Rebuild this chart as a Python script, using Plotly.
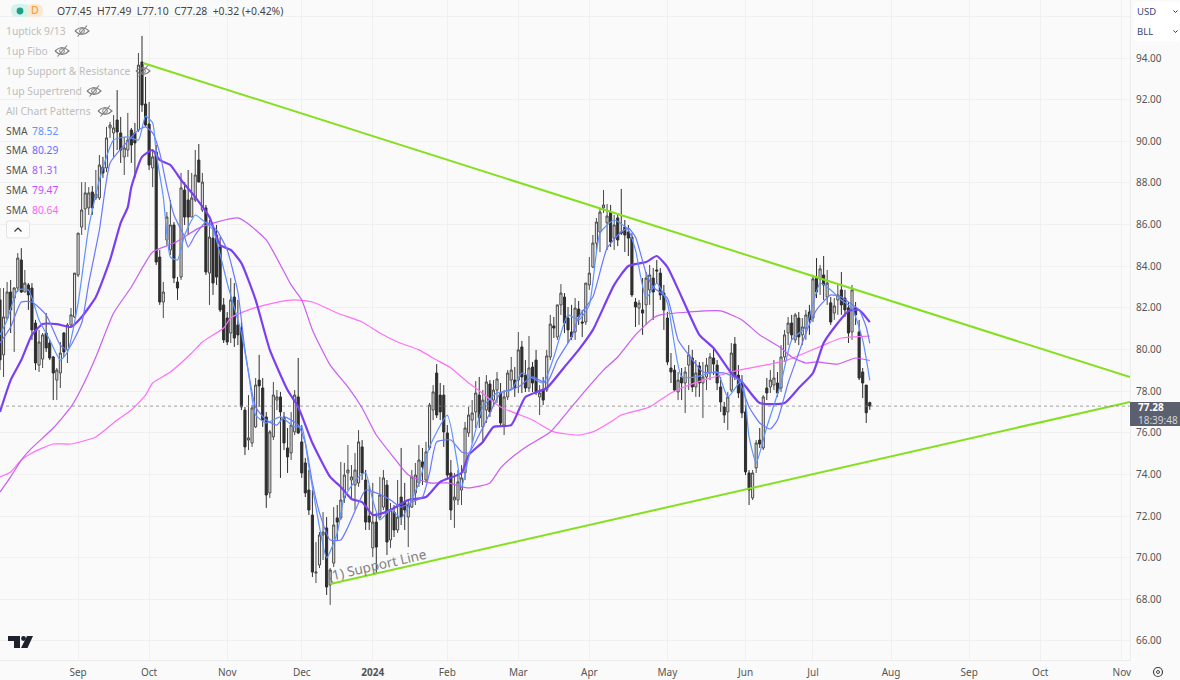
"""BLL daily candlesticks with SMAs and a triangle pattern, TradingView look."""

import plotly.graph_objects as go

# bar number 0 is the first visible day, the axis runs on into empty future bars
month_bars = [22, 42, 64, 85, 105, 126, 146, 166, 188, 210, 229, 251, 273, 293, 316]
month_labels = ['Sep', 'Oct', 'Nov', 'Dec', '<b>2024</b>', 'Feb', 'Mar', 'Apr', 'May',
                'Jun', 'Jul', 'Aug', 'Sep', 'Oct', 'Nov']
price_ticks = [66, 68, 70, 72, 74, 76, 78, 80, 82, 84, 86, 88, 90, 92, 94, 96]
price_labels = ['66.00', '68.00', '70.00', '72.00', '74.00', '76.00', '78.00', '80.00',
                '82.00', '84.00', '86.00', '88.00', '90.00', '92.00', '94.00', '']

opens = [
    82.38, 79.74, 81.51, 82.76, 82.47, 82.95, 84.30, 82.76, 83.10, 82.95,
    81.27, 79.25, 79.54, 80.79, 80.31, 79.64, 78.53, 78.87, 80.79, 79.98,
    81.18, 81.56, 83.58, 85.88, 86.75, 86.80, 87.56, 87.28, 87.28, 88.76,
    88.72, 90.64, 90.40, 91.02, 90.40, 89.25, 89.58, 90.54, 90.40, 90.54,
    93.81, 91.79, 90.83, 88.72, 89.49, 84.44, 82.28, 85.26, 84.78, 85.98,
    83.24, 83.48, 87.66, 87.18, 86.36, 87.18, 89.10, 86.70, 86.80, 83.67,
    85.35, 85.50, 84.92, 82.14, 81.51, 80.79, 82.52, 81.18, 81.03, 77.09,
    75.65, 75.51, 76.28, 78.53, 78.15, 76.76, 73.11, 75.80, 77.57, 77.72,
    76.76, 75.27, 75.03, 76.04, 77.72, 75.56, 74.55, 73.25, 72.05, 69.26,
    69.65, 71.09, 71.43, 68.69, 69.74, 71.91, 71.91, 72.87, 74.07, 73.73,
    73.49, 73.59, 75.32, 73.73, 72.00, 70.47, 71.71, 71.95, 72.43, 73.49,
    70.85, 72.19, 71.33, 72.91, 72.67, 71.95, 72.43, 73.11, 73.59, 74.60,
    73.73, 75.27, 77.09, 78.87, 77.81, 77.81, 75.99, 74.07, 72.77, 72.77,
    73.25, 74.07, 75.99, 76.61, 77.00, 77.81, 76.28, 77.09, 78.34, 77.57,
    78.05, 77.91, 76.37, 77.72, 78.53, 78.53, 78.53, 80.12, 78.77, 78.15,
    79.16, 79.49, 77.72, 78.05, 78.05, 79.64, 81.13, 80.60, 82.14, 82.52,
    81.51, 80.84, 80.84, 81.94, 81.32, 81.32, 83.10, 83.96, 85.11, 85.64,
    86.80, 86.08, 86.60, 85.35, 86.32, 85.64, 85.88, 85.64, 85.40, 82.28,
    81.99, 81.90, 82.14, 82.86, 83.43, 83.82, 83.67, 82.71, 81.51, 79.11,
    79.01, 77.96, 78.68, 78.39, 79.25, 79.59, 78.20, 79.21, 78.39, 78.68,
    78.87, 79.59, 79.25, 78.20, 77.24, 77.00, 78.05, 80.26, 78.77, 78.39,
    77.00, 74.07, 72.87, 74.31, 75.65, 75.27, 78.15, 78.20, 78.29, 78.39,
    78.15, 79.64, 80.79, 81.27, 80.46, 81.51, 80.70, 81.03, 81.80, 81.51,
    83.43, 83.39, 83.58, 82.52, 82.24, 81.75, 82.38, 82.86, 82.47, 82.00,
    80.84, 82.00, 80.84, 78.92, 78.29, 77.45,
]
highs = [
    82.95, 82.95, 83.24, 83.34, 83.00, 84.63, 84.87, 83.82, 83.19, 83.19,
    81.42, 80.94, 80.79, 81.75, 80.46, 79.69, 79.11, 80.36, 80.84, 81.27,
    81.99, 83.67, 85.59, 88.04, 88.04, 87.80, 87.85, 88.62, 89.34, 89.25,
    90.69, 90.93, 91.26, 92.46, 91.17, 90.21, 91.36, 90.64, 90.88, 94.24,
    95.06, 93.09, 91.89, 89.58, 89.82, 84.78, 83.24, 86.60, 87.18, 86.12,
    83.48, 88.48, 88.04, 88.62, 88.48, 89.58, 89.87, 88.48, 86.94, 86.22,
    85.83, 85.98, 85.40, 82.47, 81.80, 83.43, 83.19, 82.38, 81.32, 77.24,
    77.81, 77.33, 78.63, 79.74, 78.63, 77.00, 76.13, 78.44, 78.05, 77.96,
    77.00, 76.23, 77.00, 78.05, 79.59, 76.37, 74.79, 74.21, 73.25, 70.75,
    71.23, 72.19, 71.95, 69.50, 72.43, 72.53, 74.60, 74.55, 75.41, 74.45,
    75.03, 76.13, 75.65, 74.21, 73.49, 73.59, 72.15, 73.88, 74.21, 73.73,
    72.63, 72.53, 73.73, 75.27, 73.59, 72.77, 74.21, 74.55, 75.41, 75.27,
    75.56, 77.43, 78.29, 79.30, 78.39, 78.29, 76.37, 74.69, 74.07, 74.21,
    74.45, 76.52, 77.24, 77.57, 78.48, 78.68, 78.05, 78.77, 78.53, 78.53,
    78.92, 78.39, 78.05, 79.01, 79.64, 79.16, 80.84, 80.41, 79.49, 80.65,
    79.40, 79.98, 78.29, 78.68, 79.98, 81.66, 81.56, 82.14, 83.14, 82.71,
    82.04, 82.14, 82.47, 82.33, 81.90, 83.19, 84.44, 85.50, 86.32, 86.80,
    87.66, 86.99, 86.94, 86.46, 86.46, 87.71, 86.22, 85.98, 85.59, 82.47,
    82.38, 83.43, 83.72, 84.06, 83.91, 84.30, 83.91, 83.10, 81.80, 79.83,
    79.25, 78.92, 79.11, 79.16, 80.21, 79.98, 79.49, 79.40, 79.40, 79.59,
    79.83, 80.07, 79.49, 78.68, 77.48, 77.96, 80.31, 80.60, 79.25, 78.77,
    77.33, 74.21, 74.21, 75.65, 76.23, 77.81, 78.63, 79.01, 79.49, 78.92,
    80.21, 80.94, 81.56, 81.66, 81.75, 81.80, 81.51, 81.90, 82.14, 83.58,
    84.39, 84.06, 84.49, 83.82, 82.52, 82.47, 83.10, 83.72, 82.86, 82.28,
    83.10, 82.28, 81.42, 79.11, 78.29, 77.49,
]
lows = [
    79.01, 78.68, 81.42, 80.79, 79.88, 82.76, 82.71, 82.76, 81.90, 80.46,
    79.01, 78.92, 79.11, 79.88, 79.49, 77.57, 77.57, 78.15, 79.64, 79.35,
    81.08, 81.51, 83.48, 85.50, 85.74, 86.46, 86.46, 87.18, 87.18, 88.24,
    88.52, 90.16, 89.25, 89.58, 88.96, 88.38, 89.25, 88.96, 88.24, 90.45,
    91.41, 90.69, 88.62, 87.80, 84.06, 82.14, 81.51, 85.02, 84.54, 83.19,
    82.38, 83.34, 85.98, 85.50, 86.36, 87.08, 88.04, 86.60, 83.58, 82.14,
    82.62, 83.10, 81.80, 80.31, 80.21, 80.31, 80.12, 80.21, 77.09, 74.93,
    75.17, 75.32, 76.23, 77.24, 76.28, 72.39, 72.87, 75.65, 77.09, 73.83,
    75.17, 74.07, 74.69, 75.89, 75.94, 73.83, 72.91, 72.05, 69.07, 68.78,
    69.50, 69.89, 68.21, 67.73, 69.55, 70.80, 71.81, 72.63, 73.25, 72.77,
    72.29, 73.40, 73.73, 71.33, 71.33, 70.03, 69.26, 71.81, 72.29, 70.13,
    70.47, 70.99, 71.19, 71.57, 71.33, 70.51, 72.39, 72.53, 73.40, 73.49,
    73.59, 75.17, 76.61, 76.71, 76.61, 75.32, 73.83, 71.81, 71.43, 72.53,
    72.53, 73.73, 75.80, 75.51, 76.23, 76.23, 75.51, 76.47, 76.76, 77.33,
    77.43, 76.37, 75.89, 77.57, 78.05, 77.72, 77.91, 77.91, 77.96, 77.96,
    77.96, 77.81, 76.85, 77.33, 77.96, 79.49, 80.55, 80.46, 81.66, 80.79,
    80.31, 80.46, 80.46, 81.18, 80.60, 81.18, 82.86, 83.91, 84.63, 84.68,
    86.56, 84.78, 84.92, 84.78, 84.97, 85.50, 84.68, 84.49, 82.52, 81.08,
    81.18, 80.70, 81.18, 82.14, 81.42, 83.19, 82.38, 80.94, 79.25, 78.39,
    77.96, 77.57, 77.57, 76.95, 78.05, 77.96, 77.72, 77.72, 76.71, 78.05,
    78.53, 78.77, 78.05, 77.00, 76.47, 76.13, 77.96, 78.53, 77.67, 76.71,
    73.97, 72.53, 72.77, 74.07, 75.27, 75.17, 77.57, 77.91, 78.05, 77.72,
    77.96, 79.40, 80.21, 80.46, 80.31, 80.21, 80.21, 80.46, 80.70, 81.32,
    82.47, 82.62, 82.38, 82.14, 81.18, 81.42, 81.66, 81.66, 81.56, 80.31,
    80.46, 81.18, 78.53, 77.67, 76.47, 77.10,
]
closes = [
    79.50, 81.56, 82.76, 81.90, 82.95, 84.39, 82.76, 83.19, 82.62, 80.94,
    79.35, 80.36, 80.70, 80.07, 79.59, 78.87, 79.01, 79.83, 79.88, 81.18,
    81.66, 83.67, 85.59, 86.70, 87.52, 87.52, 86.80, 87.47, 88.86, 88.48,
    90.16, 90.78, 90.64, 90.45, 89.58, 89.68, 90.06, 89.82, 89.92, 93.66,
    91.74, 90.78, 88.86, 89.25, 84.20, 82.28, 82.76, 86.36, 85.98, 83.43,
    82.95, 87.76, 86.36, 86.36, 87.28, 88.38, 88.04, 88.04, 83.72, 85.40,
    83.19, 83.48, 81.90, 80.46, 80.36, 82.38, 80.55, 80.70, 77.24, 75.32,
    75.75, 77.19, 78.29, 78.25, 76.61, 73.01, 76.04, 77.81, 77.72, 77.00,
    75.51, 74.84, 76.37, 77.81, 75.99, 74.07, 73.11, 72.29, 69.31, 69.31,
    71.09, 71.23, 68.59, 69.41, 71.57, 71.71, 72.77, 73.97, 74.21, 73.88,
    74.21, 75.56, 74.07, 71.71, 71.71, 71.71, 70.51, 73.01, 73.83, 70.75,
    72.29, 71.33, 71.95, 71.95, 72.29, 72.53, 73.88, 73.97, 74.69, 74.36,
    75.08, 77.33, 77.96, 76.85, 77.00, 76.04, 73.97, 72.29, 72.91, 73.64,
    73.83, 76.23, 76.85, 76.95, 77.91, 76.71, 77.57, 78.44, 77.00, 78.05,
    78.58, 76.47, 77.72, 78.87, 79.01, 78.15, 79.98, 78.68, 78.15, 79.11,
    78.39, 77.96, 77.91, 77.57, 79.69, 81.22, 81.03, 82.14, 82.71, 81.27,
    80.94, 80.60, 81.99, 81.56, 81.27, 83.19, 83.67, 85.11, 86.12, 86.60,
    86.94, 86.41, 85.16, 85.98, 85.26, 85.59, 85.50, 85.35, 82.62, 82.04,
    82.23, 81.75, 83.43, 83.58, 82.76, 83.77, 82.62, 81.90, 79.40, 78.92,
    78.05, 78.53, 78.39, 78.92, 79.74, 78.20, 78.87, 78.39, 78.68, 79.25,
    79.64, 79.30, 78.39, 77.48, 76.85, 77.72, 79.83, 78.68, 77.91, 76.95,
    74.12, 73.25, 74.07, 75.51, 75.46, 77.72, 77.91, 78.53, 78.63, 77.91,
    79.64, 80.70, 81.27, 80.70, 81.66, 80.60, 81.08, 81.66, 81.42, 83.39,
    82.76, 83.87, 83.10, 83.19, 81.32, 82.09, 82.62, 82.14, 81.90, 80.79,
    82.86, 81.66, 78.63, 78.39, 76.96, 77.28,
]

# moving averages at these bars
sma1_bars = [0, 2, 5, 8, 11, 14, 17, 19, 22, 25, 28, 32, 36, 39, 41, 43, 44, 46, 48, 50, 52, 55,
             57, 60, 64, 68, 70, 72, 75, 79, 83, 85, 87, 90, 92, 95, 97, 101, 103, 105, 107, 110,
             113, 115, 118, 121, 126, 129, 130, 132, 136, 140, 144, 147, 153, 156, 160, 163, 166,
             169, 173, 177, 179, 182, 185, 188, 192, 196, 202, 205, 209, 211, 213, 216, 220, 223,
             227, 231, 234, 237, 240, 243, 245]
sma1_vals = [80.70, 81.42, 82.86, 82.86, 81.42, 80.46, 79.49, 79.88, 82.23, 85.88, 88.14, 90.06,
             90.21, 90.06, 91.21, 90.88, 89.44, 87.32, 84.44, 84.30, 85.50, 86.46, 86.22, 85.74,
             83.19, 80.79, 78.87, 76.85, 76.47, 76.76, 76.28, 76.28, 74.36, 71.47, 69.99, 71.19,
             72.91, 73.88, 74.07, 72.77, 71.81, 72.29, 71.91, 72.43, 73.59, 75.32, 76.85, 74.36,
             73.35, 74.79, 77.24, 77.91, 78.05, 78.87, 78.39, 79.64, 81.66, 81.42, 82.14, 85.59,
             86.22, 85.74, 84.78, 82.47, 83.19, 82.23, 78.68, 78.68, 78.92, 77.72, 78.53, 75.80,
             74.55, 76.28, 78.39, 80.46, 81.08, 83.19, 82.86, 82.38, 81.99, 80.46, 78.52]
sma2_bars = [0, 3, 6, 9, 13, 17, 19, 23, 25, 28, 31, 35, 39, 41, 43, 45, 47, 49, 52, 53, 55, 58,
             61, 64, 67, 69, 72, 75, 78, 80, 84, 86, 88, 90, 93, 96, 98, 101, 103, 106, 110, 113,
             116, 119, 121, 123, 127, 130, 132, 138, 141, 146, 150, 154, 157, 161, 163, 167, 171,
             175, 177, 179, 182, 184, 188, 191, 194, 198, 204, 208, 211, 214, 217, 219, 222, 225,
             227, 230, 234, 237, 239, 242, 244, 245]
sma2_vals = [80.31, 81.08, 82.28, 82.28, 81.66, 80.21, 79.98, 81.27, 83.19, 85.74, 88.96, 89.82,
             90.54, 90.69, 90.40, 89.44, 87.80, 86.46, 85.40, 84.92, 85.50, 86.12, 85.74, 84.78,
             82.76, 79.98, 77.24, 76.61, 76.37, 76.76, 76.37, 75.51, 73.59, 72.15, 70.85, 70.85,
             71.47, 72.63, 73.25, 73.11, 72.77, 72.43, 72.67, 72.91, 74.07, 75.56, 75.65, 75.08,
             75.03, 76.95, 77.91, 78.20, 78.68, 78.39, 79.49, 80.60, 81.56, 82.52, 84.87, 85.64,
             85.83, 85.40, 83.67, 83.00, 82.47, 80.46, 79.74, 78.92, 78.87, 78.53, 77.24, 76.47,
             76.18, 76.61, 78.39, 79.83, 80.79, 81.90, 82.62, 82.52, 82.28, 81.90, 81.08, 80.29]
sma3_bars = [0, 3, 6, 9, 12, 16, 20, 23, 27, 31, 34, 36, 37, 40, 43, 45, 48, 51, 55, 59, 62, 65,
             68, 72, 76, 81, 84, 88, 93, 96, 99, 102, 105, 108, 111, 115, 120, 124, 130, 132, 136,
             139, 144, 148, 154, 159, 163, 167, 173, 177, 182, 185, 188, 192, 197, 201, 206, 209,
             214, 221, 225, 229, 232, 236, 239, 242, 245]
sma3_vals = [77.00, 78.53, 79.49, 80.70, 81.22, 81.22, 81.08, 81.56, 82.52, 84.30, 86.08, 86.84,
             87.80, 89.25, 89.58, 89.10, 88.86, 88.14, 87.32, 86.36, 85.02, 84.78, 84.15, 82.38,
             79.98, 78.05, 77.24, 75.51, 73.88, 73.40, 72.82, 72.67, 72.05, 72.15, 72.39, 72.77,
             72.91, 73.64, 74.07, 74.93, 75.56, 76.28, 76.37, 77.72, 78.15, 79.16, 79.98, 80.94,
             83.10, 84.01, 84.20, 84.49, 83.96, 82.52, 80.70, 80.07, 78.87, 78.44, 77.43, 77.43,
             78.15, 78.87, 80.31, 81.27, 81.85, 81.90, 81.31]
sma4_bars = [0, 3, 6, 9, 15, 20, 23, 27, 32, 37, 43, 49, 56, 61, 67, 70, 75, 79, 82, 85, 88, 93,
             98, 102, 106, 111, 115, 121, 126, 132, 138, 141, 144, 149, 155, 161, 165, 170, 174,
             179, 184, 186, 194, 203, 209, 214, 220, 223, 227, 230, 236, 241, 245]
sma4_vals = [73.15, 73.88, 74.69, 75.27, 76.23, 77.24, 78.15, 79.64, 81.75, 83.00, 84.68, 85.11,
             85.83, 86.12, 86.32, 86.03, 85.26, 84.06, 83.10, 82.38, 80.94, 79.25, 78.20, 77.19,
             75.89, 74.79, 73.97, 73.59, 73.59, 73.35, 73.59, 74.31, 74.79, 75.41, 76.04, 77.24,
             78.05, 79.01, 79.64, 80.70, 81.51, 81.66, 81.80, 81.85, 81.42, 80.70, 80.07, 79.64,
             79.35, 79.40, 79.30, 79.59, 79.47]
sma5_bars = [0, 3, 6, 9, 15, 20, 27, 33, 37, 41, 43, 48, 54, 57, 63, 65, 70, 77, 83, 88, 95, 102,
             107, 112, 118, 123, 127, 132, 134, 141, 150, 156, 163, 167, 172, 175, 183, 189, 194,
             206, 217, 221, 224, 232, 237, 245]
sma5_vals = [73.88, 74.12, 74.69, 75.03, 75.46, 75.46, 75.80, 76.61, 77.09, 77.81, 78.39, 78.92,
             79.83, 80.36, 81.03, 81.51, 81.90, 82.23, 82.38, 82.28, 81.75, 81.32, 80.79, 80.36,
             79.98, 79.49, 79.11, 78.39, 78.15, 77.24, 76.61, 76.04, 75.89, 76.04, 76.52, 76.85,
             77.24, 77.91, 78.29, 78.92, 79.30, 79.45, 79.64, 80.21, 80.55, 80.64]

# drawn pattern lines
upper_bars = [40.3, 318.3]
upper_vals = [93.76, 78.68]
lower_bars = [93, 318.3]
lower_vals = [68.74, 77.48]

last_price = 77.28
hidden_rows = ['1uptick 9/13', '1up Fibo', '1up Support &amp; Resistance', '1up Supertrend',
               'All Chart Patterns']
sma_legend = ['78.52', '80.29', '81.31', '79.47', '80.64']

W, H = 1130, 660
FONT = 'Noto Sans'
SMA_COLORS = ['#5f93ff', '#6a78ff', '#7b3ff2', '#c95cf5', '#ff70f5']
LABEL_COLORS = ['#5f93ff', '#6a6aff', '#9a5cff', '#c64dff', '#ff66f5']


def px(x):
    return x / W


def py(y):
    return 1 - y / H


def path_shape(path, **kw):
    return dict(type='path', xref='paper', yref='paper', path=path, layer='above', **kw)


def pts(*pairs):
    return ' '.join(f'{c} {px(a):.5f},{py(b):.5f}' for c, a, b in pairs)


def round_rect(x0, y0, x1, y1, r, fill, line='rgba(0,0,0,0)'):
    k = [('M', x0 + r, y0), ('L', x1 - r, y0), ('Q', x1, y0), ('', x1, y0 + r), ('L', x1, y1 - r),
         ('Q', x1, y1), ('', x1 - r, y1), ('L', x0 + r, y1), ('Q', x0, y1), ('', x0, y1 - r),
         ('L', x0, y0 + r), ('Q', x0, y0), ('', x0 + r, y0)]
    return path_shape(pts(*k) + ' Z', fillcolor=fill, line=dict(color=line, width=1))


def circle(cx, cy, r, fill, line='rgba(0,0,0,0)', width=1):
    return dict(type='circle', xref='paper', yref='paper', layer='above',
                x0=px(cx - r), x1=px(cx + r), y0=py(cy + r), y1=py(cy - r),
                fillcolor=fill, line=dict(color=line, width=width))


def eye_off(cx, cy):
    col = '#7d7d7d'
    eye = pts(('M', cx - 7, cy), ('Q', cx, cy - 7), ('', cx + 7, cy),
              ('Q', cx, cy + 7), ('', cx - 7, cy))
    slash = pts(('M', cx - 4.5, cy + 5.5), ('L', cx + 5, cy - 5.5))
    return [path_shape(eye, line=dict(color=col, width=1.1)),
            circle(cx, cy, 2.4, 'rgba(0,0,0,0)', col),
            path_shape(slash, line=dict(color=col, width=1.1))]


def label(x, y, text, color='#555', size=10.5, anchor='left', **kw):
    # annotations keep a small pad around the text, take it off the left side
    shift = -2 if anchor == 'left' else 0
    return dict(xref='paper', yref='paper', x=px(x + shift), y=py(y), text=text, showarrow=False,
                xanchor=anchor, yanchor='middle', font=dict(family=FONT, size=size, color=color),
                **kw)


fig = go.Figure()

fig.add_trace(go.Candlestick(
    x=list(range(len(opens))), open=opens, high=highs, low=lows, close=closes,
    increasing=dict(line=dict(color='#4a4a4a', width=1), fillcolor='#e6e6e6'),
    decreasing=dict(line=dict(color='#2e2e2e', width=1), fillcolor='#2e2e2e'),
    whiskerwidth=0, showlegend=False, hoverinfo='skip',
))

sma_series = [(sma5_bars, sma5_vals, SMA_COLORS[4], 1.2), (sma4_bars, sma4_vals, SMA_COLORS[3], 1.2),
              (sma3_bars, sma3_vals, SMA_COLORS[2], 2.2), (sma2_bars, sma2_vals, SMA_COLORS[1], 1.2),
              (sma1_bars, sma1_vals, SMA_COLORS[0], 1.2)]
for bars, vals, color, width in sma_series:
    fig.add_trace(go.Scatter(x=bars, y=vals, mode='lines', hoverinfo='skip', showlegend=False,
                             line=dict(color=color, width=width, shape='spline', smoothing=0.5)))

for bars, vals in [(upper_bars, upper_vals), (lower_bars, lower_vals)]:
    fig.add_trace(go.Scatter(x=bars, y=vals, mode='lines', hoverinfo='skip', showlegend=False,
                             line=dict(color='#84e01f', width=2)))

shapes = [
    dict(type='line', xref='paper', yref='y', x0=0, x1=1, y0=last_price, y1=last_price,
         line=dict(color='#8a8a8a', width=0.8, dash='dot')),
    # header pill
    round_rect(11, 4, 30, 17, 6, '#d6f2ec'),
    round_rect(27, 4, 43, 17, 6, '#fbe8d4'),
    circle(20, 11, 3.4, '#1f9e8a'),
    # collapse button
    round_rect(6.5, 221, 29.5, 238, 2, '#fcfcfc', '#e3e3e3'),
    path_shape(pts(('M', 14.5, 231.5), ('L', 18, 228), ('L', 21.5, 231.5)),
               line=dict(color='#333', width=1.2)),
    # currency / symbol box
    round_rect(1134, 2, 1180, 41, 3, '#ffffff'),
    path_shape(pts(('M', 1173.5, 10.5), ('L', 1175.5, 12.5), ('L', 1177.5, 10.5)),
               line=dict(color='#333', width=1)),
    path_shape(pts(('M', 1173.5, 30.5), ('L', 1175.5, 32.5), ('L', 1177.5, 30.5)),
               line=dict(color='#333', width=1)),
    # price label on the axis
    dict(type='rect', xref='paper', yref='paper', x0=px(1130), x1=px(1180), y0=py(426), y1=py(402),
         fillcolor='#5b5f6e', line=dict(width=0), layer='above'),
    # logo
    path_shape(pts(('M', 8, 636), ('L', 20, 636), ('L', 20, 648), ('L', 14, 648), ('L', 14, 641),
                   ('L', 8, 641)) + ' Z', fillcolor='#1e222d', line=dict(width=0)),
    circle(23.5, 638.5, 2.4, '#1e222d'),
    path_shape(pts(('M', 27, 636), ('L', 33, 636), ('L', 27.5, 648), ('L', 21, 648)) + ' Z',
               fillcolor='#1e222d', line=dict(width=0)),
    # settings gear
    circle(1158, 672, 4.5, 'rgba(0,0,0,0)', '#444', 1.2),
    circle(1158, 672, 1.5, 'rgba(0,0,0,0)', '#444', 1),
]
for cx, cy in [(82, 31), (62, 51), (143, 71), (94, 91), (105, 111)]:
    shapes += eye_off(cx, cy)

annotations = [
    label(34.7, 10.5, 'D', '#f7941d', 10.5, 'center'),
    label(57, 11, 'O77.45  H77.49  L77.10  C77.28  +0.32 (+0.42%)', '#444', 10.4),
    label(1137, 11, 'USD', '#3b3f7a', 9.5),
    label(1137, 31, 'BLL', '#3b3f7a', 9.5),
    label(1138, 413.5, '<b>77.28</b><br><span style="color:#d4d4d8">18:39:48</span>', '#ffffff', 10,
          align='left'),
    dict(xref='paper', yref='paper', x=px(377), y=py(565), xanchor='center', yanchor='middle',
         text='(1) Support Line', showarrow=False, textangle=-13,
         font=dict(family=FONT, size=13.5, color='#808080')),
]
for row, text in enumerate(hidden_rows):
    annotations.append(label(6, 31 + 20 * row, text, '#bdbdbd', 10.3))
for row, value in enumerate(sma_legend):
    ypos = 130.5 + 19.9 * row
    annotations.append(label(6, ypos, 'SMA', '#555', 10.3))
    annotations.append(label(32, ypos, value, LABEL_COLORS[row], 10.3))

fig.update_layout(
    width=1180, height=680,
    margin=dict(l=0, r=50, t=0, b=20),
    paper_bgcolor='#fafafa', plot_bgcolor='#fafafa',
    font=dict(family=FONT, size=10, color='#555'),
    showlegend=False,
    boxgap=0.15,
    shapes=shapes, annotations=annotations,
)
fig.update_xaxes(
    range=[0, 318.3], rangeslider_visible=False, tickmode='array',
    tickvals=month_bars, ticktext=month_labels, ticks='', showgrid=True,
    gridcolor='#f0f0f0', gridwidth=1, zeroline=False, showline=True, linecolor='#ececec',
    ticklabelstandoff=3,
    tickfont=dict(family=FONT, size=10, color='#555'),
)
fig.update_yaxes(
    range=[65.085, 96.786], side='right', tickmode='array', tickvals=price_ticks,
    ticktext=price_labels, ticks='', showgrid=True, gridcolor='#f0f0f0', gridwidth=1,
    zeroline=False, showline=True, linecolor='#ececec', mirror=False,
    ticklabelstandoff=3,
    tickfont=dict(family=FONT, size=10, color='#555'),
)

fig.write_html('out.html', config={'displayModeBar': False},
               post_script="document.body.style.margin='0';document.body.style.background='#fafafa';")
